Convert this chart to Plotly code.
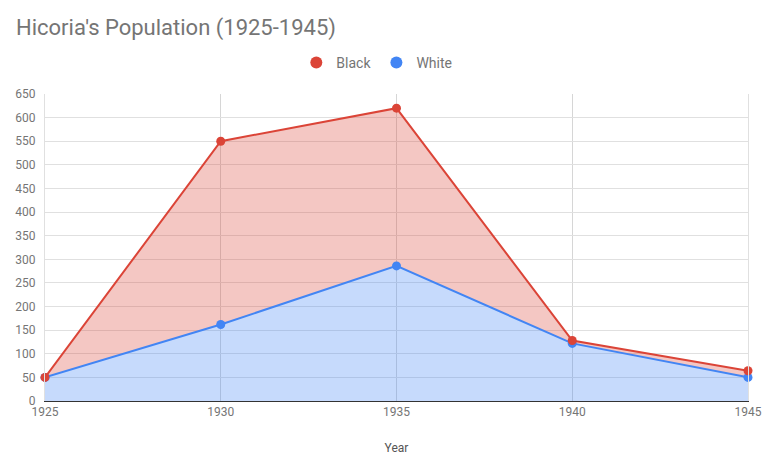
import plotly.graph_objects as go

years = [1925, 1930, 1935, 1940, 1945]
black = [50, 550, 620, 128, 64]
white = [50, 162, 286, 122, 50]
x_ticks = [1925, 1930, 1935, 1940, 1945]
y_ticks = list(range(0, 651, 50))

RED = "#DB4437"
BLUE = "#4285F4"

fig = go.Figure()
# legend entries (circle only)
fig.add_trace(go.Scatter(x=[None], y=[None], name="Black", mode="markers",
                         marker=dict(color=RED, size=12)))
fig.add_trace(go.Scatter(x=[None], y=[None], name="White", mode="markers",
                         marker=dict(color=BLUE, size=12)))
fig.add_trace(go.Scatter(
    x=years, y=white, name="White", mode="lines+markers",
    line=dict(color=BLUE, width=2), marker=dict(color=BLUE, size=9),
    fill="tozeroy", fillcolor="rgba(66,133,244,0.3)",
    showlegend=False, cliponaxis=False))
fig.add_trace(go.Scatter(
    x=years, y=black, name="Black", mode="lines+markers",
    line=dict(color=RED, width=2), marker=dict(color=RED, size=9),
    fill="tonexty", fillcolor="rgba(219,68,55,0.3)",
    showlegend=False, cliponaxis=False))

fig.update_layout(
    width=768, height=464,
    margin=dict(l=45, r=20, t=94, b=63, autoexpand=False),
    paper_bgcolor="white", plot_bgcolor="white",
    font=dict(family="Roboto", color="#757575", size=12),
    title=dict(text="Hicoria's Population (1925-1945)", x=16/768, xanchor="left",
               y=1-27/464, yanchor="middle",
               font=dict(family="Roboto", size=22, color="#757575")),
    legend=dict(orientation="h", x=0.472, xanchor="center", y=1.101, yanchor="middle",
                font=dict(family="Roboto", size=14, color="#757575"),
                itemwidth=30, tracegroupgap=0, traceorder="normal"),
    showlegend=True,
)
fig.update_xaxes(
    range=[1925, 1945], tickvals=x_ticks, ticktext=[str(t) for t in x_ticks],
    showgrid=True, gridcolor="#d6d6d6", gridwidth=1,
    showline=True, linecolor="#333333", linewidth=1,
    zeroline=False, ticks="", tickfont=dict(size=12, color="#757575"),
    title=dict(text="Year", font=dict(size=12, color="#555555"), standoff=25),
    automargin=False,
)
fig.update_yaxes(
    range=[0, 650], tickvals=y_ticks,
    showgrid=True, gridcolor="#e0e0e0", gridwidth=1,
    showline=True, linecolor="#e0e0e0", mirror=True,
    zeroline=False, ticks="", ticklabelstandoff=6,
    tickfont=dict(size=12, color="#757575"),
    automargin=False,
)

fig.write_html("out.html")
